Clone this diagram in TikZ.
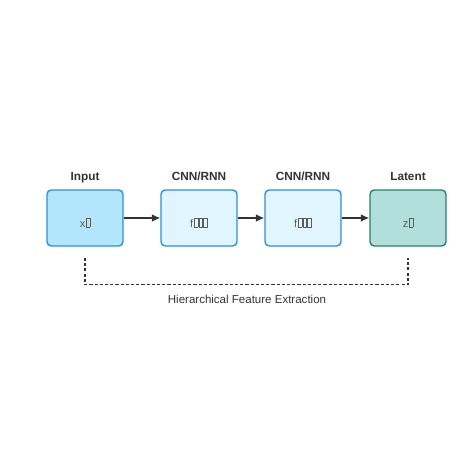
\documentclass[tikz,border=0pt]{standalone}
\usepackage{xcolor}
\usepackage{fontspec}
\setmainfont{Liberation Sans}
\usepackage{tikz}
\usetikzlibrary{arrows.meta}

\definecolor{inkgrey}{HTML}{333333}
\definecolor{inblue}{HTML}{B3E5FC}
\definecolor{cnnblue}{HTML}{E1F5FE}
\definecolor{edgeblue}{HTML}{2D8FD8}
\definecolor{latfill}{HTML}{B2DFDB}
\definecolor{latedge}{HTML}{2A7F70}

% missing-glyph box, as the picture prints it
\newcommand{\tofu}{{\setlength{\fboxsep}{0pt}\setlength{\fboxrule}{0.35pt}%
  \hspace{0.05em}\fbox{\rule{0pt}{0.78em}\hspace{0.3em}}}}
\newcommand{\boxtext}[1]{\raisebox{-6.5pt}[0pt][0pt]{#1}}

\begin{document}
\begin{tikzpicture}[
  stage/.style={draw=edgeblue, rounded corners=3pt, line width=1pt,
    minimum width=1.9cm, minimum height=1.4cm, font=\fontsize{7.8}{9}\selectfont,
    text=inkgrey!80},
  title/.style={font=\bfseries\fontsize{8.4}{10}\selectfont, text=inkgrey,
    anchor=base},
  arrow/.style={-{Latex[length=6pt,width=5.5pt]}, line width=0.9pt, draw=inkgrey},
  bracket/.style={line width=1pt, draw=inkgrey, dash pattern=on 2.2pt off 1.5pt},
  note/.style={font=\fontsize{8.2}{10}\selectfont, text=inkgrey}
]
\useasboundingbox (0,0) rectangle (11.85,-11.85);

\node[stage, fill=inblue] (in) at (2.125,-5.45) {\boxtext{x\tofu}};
\node[stage, fill=cnnblue] (cnna) at (4.975,-5.45) {\boxtext{f\tofu\tofu\tofu}};
\node[stage, fill=cnnblue] (cnnb) at (7.575,-5.45) {\boxtext{f\tofu\tofu\tofu}};
\node[stage, fill=latfill, draw=latedge] (lat) at (10.2,-5.45) {\boxtext{z\tofu}};

\node[title] (tin) at (2.125,-4.52) {Input};
\node[title] (tcnna) at (4.975,-4.52) {CNN/RNN};
\node[title] (tcnnb) at (7.575,-4.52) {CNN/RNN};
\node[title] (tlat) at (10.2,-4.52) {Latent};

\draw[arrow] (in.east) -- (cnna.west);
\draw[arrow] (cnna.east) -- (cnnb.west);
\draw[arrow] (cnnb.east) -- (lat.west);

\draw[bracket] ([yshift=-0.28cm]in.south) -- ++(0,-0.67)
  -| ([yshift=-0.28cm]lat.south);
\node[note] (hfe) at (6.175,-7.475) {Hierarchical Feature Extraction};
\end{tikzpicture}
\end{document}
